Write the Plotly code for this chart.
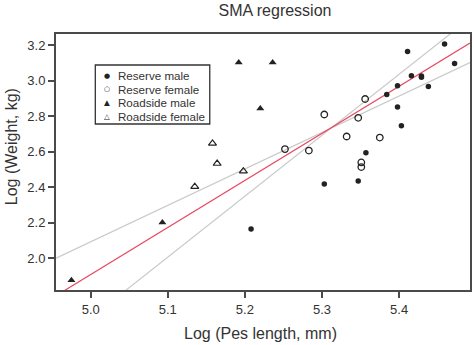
import numpy as np
import plotly.graph_objects as go

# ---- data ----
reserve_male_x = [5.411, 5.459, 5.472, 5.416, 5.429, 5.429, 5.438, 5.398, 5.384, 5.398, 5.403, 5.357, 5.303, 5.347, 5.208]
reserve_male_y = [3.164, 3.206, 3.096, 3.027, 3.025, 3.018, 2.967, 2.971, 2.922, 2.851, 2.745, 2.593, 2.417, 2.435, 2.165]

reserve_female_x = [5.356, 5.303, 5.347, 5.332, 5.375, 5.252, 5.283, 5.351, 5.351]
reserve_female_y = [2.896, 2.809, 2.790, 2.685, 2.679, 2.614, 2.606, 2.539, 2.513]

roadside_male_x = [5.192, 5.236, 5.220, 5.093, 4.975]
roadside_male_y = [3.102, 3.102, 2.843, 2.201, 1.876]

roadside_female_x = [5.158, 5.164, 5.135, 5.198]
roadside_female_y = [2.646, 2.533, 2.403, 2.490]

# SMA fit and confidence lines: (slope, intercept)
sma_line = (2.648, -11.332)
ci_upper = (2.052, -8.168)
ci_lower = (3.430, -15.487)

series_names = ["Reserve male", "Reserve female", "Roadside male", "Roadside female"]
legend_glyphs = ["●", "○", "▲", "△"]

x_ticks = [5.0, 5.1, 5.2, 5.3, 5.4]
y_ticks = [2.0, 2.2, 2.4, 2.6, 2.8, 3.0, 3.2]
x_range = [4.955, 5.492]
y_range = [1.821, 3.262]

# ---- figure ----
FONT = "Liberation Sans, Arial, sans-serif"
INK = "#222222"
AX = "#4a4a4a"
TXT = "#333333"

fig = go.Figure()

xs = np.array(x_range)
for (m, b), col in [(ci_upper, "#c9c9c9"), (ci_lower, "#c9c9c9"), (sma_line, "#e8485e")]:
    fig.add_trace(go.Scatter(x=xs, y=m * xs + b, mode="lines",
                             line=dict(color=col, width=1.2), hoverinfo="skip"))

fig.add_trace(go.Scatter(x=reserve_male_x, y=reserve_male_y, mode="markers", name=series_names[0],
                         marker=dict(symbol="circle", size=5.5, color=INK)))
fig.add_trace(go.Scatter(x=reserve_female_x, y=reserve_female_y, mode="markers", name=series_names[1],
                         marker=dict(symbol="circle-open", size=6.5, color=INK, line=dict(width=1.3))))
fig.add_trace(go.Scatter(x=roadside_male_x, y=roadside_male_y, mode="markers", name=series_names[2],
                         marker=dict(symbol="triangle-up", size=7, color=INK)))
fig.add_trace(go.Scatter(x=roadside_female_x, y=roadside_female_y, mode="markers", name=series_names[3],
                         marker=dict(symbol="triangle-up-open", size=7, color=INK, line=dict(width=1.2))))

# plot area geometry in px
L, R, T, B = 56, 472, 34, 290
W, H = R - L, B - T
def px(xp):
    return (xp - L) / W
def py(yp):
    return (B - yp) / H

annotations = []
# custom compact legend
row_y = [75.8, 89.2, 102.6, 116.0]
glyph_sizes = [7, 7, 7.5, 7.5]
for i, (g, name) in enumerate(zip(legend_glyphs, series_names)):
    annotations.append(dict(x=px(107.5), y=py(row_y[i]), xref="paper", yref="paper", text=g,
                            showarrow=False, xanchor="center", yanchor="middle", borderpad=0,
                            font=dict(family="DejaVu Sans", size=glyph_sizes[i], color=INK)))
    annotations.append(dict(x=px(117.5), y=py(row_y[i]), xref="paper", yref="paper", text=name,
                            showarrow=False, xanchor="left", yanchor="middle", borderpad=0,
                            font=dict(family=FONT, size=11.6, color=TXT)))
# axis titles
annotations.append(dict(x=px(261.7), y=py(333), xref="paper", yref="paper", text="Log (Pes length, mm)",
                        showarrow=False, xanchor="center", yanchor="middle",
                        font=dict(family=FONT, size=16, color=TXT)))
annotations.append(dict(x=px(11), y=py(147), xref="paper", yref="paper", text="Log (Weight, kg)",
                        showarrow=False, xanchor="center", yanchor="middle", textangle=-90,
                        font=dict(family=FONT, size=16, color=TXT)))

fig.update_layout(
    width=474, height=345,
    margin=dict(l=L, r=474 - R, t=T, b=345 - B),
    paper_bgcolor="white", plot_bgcolor="white",
    showlegend=False,
    title=dict(text="SMA regression", x=275 / 474, xanchor="center", y=1 - 10 / 345, yanchor="middle",
               xref="container", font=dict(family=FONT, size=16, color=TXT)),
    annotations=annotations,
    shapes=[dict(type="rect", xref="paper", yref="paper", x0=px(95.5), x1=px(210.5), y0=py(65), y1=py(124),
                 line=dict(color="#333333", width=1.3), fillcolor="white", layer="below")],
)
fig.update_xaxes(range=x_range, tickvals=x_ticks, ticktext=[f"{v:.1f}" for v in x_ticks],
                 showgrid=False, zeroline=False, showline=True, linecolor=AX, linewidth=2, mirror=True,
                 ticks="outside", ticklen=6, tickwidth=1.5, tickcolor=AX,
                 tickfont=dict(family=FONT, size=13, color=TXT))
fig.update_yaxes(range=y_range, tickvals=y_ticks, ticktext=[f"{v:.1f}" for v in y_ticks],
                 showgrid=False, zeroline=False, showline=True, linecolor=AX, linewidth=2, mirror=True,
                 ticks="outside", ticklen=6, tickwidth=1.5, tickcolor=AX,
                 tickfont=dict(family=FONT, size=13, color=TXT))

fig.write_html("out.html")
